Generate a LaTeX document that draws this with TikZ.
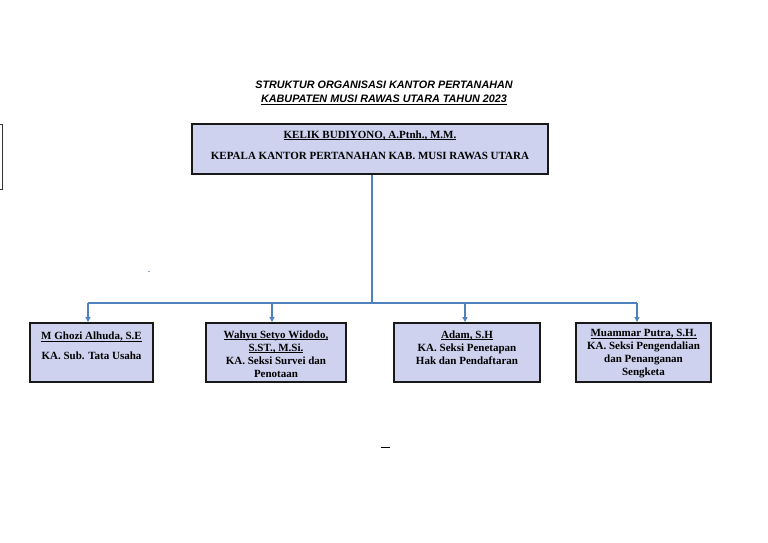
\documentclass[tikz,border=0pt]{standalone}
\usepackage{fontspec}
\setmainfont{Liberation Serif}
\newfontfamily\titlefont{Liberation Sans}
\usetikzlibrary{arrows.meta}
\definecolor{boxfill}{RGB}{206,210,238}
\definecolor{linkblue}{RGB}{79,129,189}
\newcommand\myul[1]{\setbox0\hbox{#1}\rlap{\rule[-1.6pt]{\wd0}{0.7pt}}\box0}
\tikzset{
  orgbox/.style={draw=black!90, line width=2pt, fill=boxfill, inner sep=0pt},
  orgtext/.style={align=center, inner sep=0pt, font=\bfseries\fontsize{11}{13}\selectfont},
  link/.style={draw=linkblue, line width=1.6pt},
  linkarrow/.style={link, -{Triangle[length=5pt,width=5pt]}},
}
\begin{document}
\begin{tikzpicture}[x=1pt,y=-1pt]
\useasboundingbox (0,0) rectangle (768,543);
% title
\node[inner sep=0pt, font=\titlefont\bfseries\itshape\fontsize{10.8}{14}\selectfont, align=center] (title) at (384,93)
  {STRUKTUR ORGANISASI KANTOR PERTANAHAN\\\myul{KABUPATEN MUSI RAWAS UTARA TAHUN 2023}};
% top box
\node[orgbox, minimum width=356pt, minimum height=50pt] (top) at (370,149) {};
\node[orgtext] (toptext) at (370,145) {\myul{KELIK BUDIYONO, A.Ptnh., M.M.}\\[8pt]KEPALA KANTOR PERTANAHAN KAB. MUSI RAWAS UTARA};
% lower boxes
\node[orgbox, minimum width=123pt, minimum height=59pt] (b1) at (91.5,352.5) {};
\node[orgbox, minimum width=140pt, minimum height=59pt] (b2) at (276,352.5) {};
\node[orgbox, minimum width=146pt, minimum height=59pt] (b3) at (467,352.5) {};
\node[orgbox, minimum width=135pt, minimum height=59pt] (b4) at (643.5,352.5) {};
\node[orgtext] (t1) at (91.5,346) {\myul{M Ghozi Alhuda, S.E}\\[7pt]KA. Sub. Tata Usaha};
\node[orgtext] (t2) at (276,354) {\myul{Wahyu Setyo Widodo,}\\\myul{S.ST., M.Si.}\\KA. Seksi Survei dan\\Penotaan};
\node[orgtext] (t3) at (467,347.5) {\myul{Adam, S.H}\\KA. Seksi Penetapan\\Hak dan Pendaftaran};
\node[orgtext] (t4) at (643.5,354) {\myul{Muammar Putra, S.H.}\\KA. Seksi Pengendalian\\dan Penanganan\\Sengketa};
% connectors
\coordinate (c1) at (88,303);
\coordinate (c2) at (272,303);
\coordinate (c3) at (465,303);
\coordinate (c4) at (637,303);
\coordinate (hub) at (372,303);
\draw[link] (top.south -| hub) -- (hub);
\draw[link] (c1) -- (c4);
\draw[linkarrow] (c1) -- (c1 |- b1.north);
\draw[linkarrow] (c2) -- (c2 |- b2.north);
\draw[linkarrow] (c3) -- (c3 |- b3.north);
\draw[linkarrow] (c4) -- (c4 |- b4.north);
% stray marks
\draw[black!80, line width=1pt] (0,124) -- (2.5,124) -- (2.5,189) -- (0,189);
\fill[linkblue!70] (148.2,270.5) rectangle (150,272);
\draw[black, line width=1pt] (381,447) -- (390,447);
\end{tikzpicture}
\end{document}
